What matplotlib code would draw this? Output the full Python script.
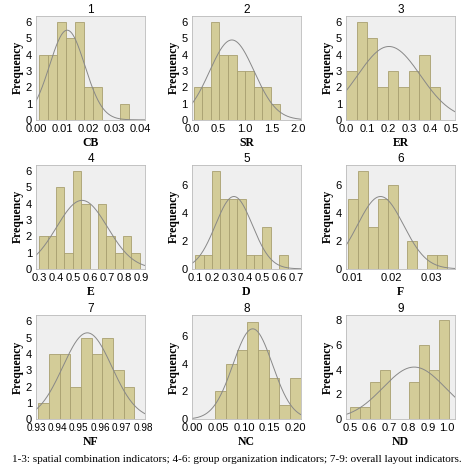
import numpy as np
import matplotlib
matplotlib.use("Agg")
import matplotlib.pyplot as plt

titles = ["1","2","3","4","5","6","7","8","9"]
xlabels = ["CB","SR","ER","E","D","F","NF","NC","ND"]
bin_start = [0.001, 0.03, 0.0, 0.30, 0.10, 0.009, 0.931, 0.045, 0.50]
bin_width = [0.0035, 0.162, 0.05, 0.049, 0.05, 0.0025, 0.005, 0.0206, 0.051]
counts = [
    [4,4,6,5,6,2,2,0,0,1],
    [2,2,6,4,4,3,3,2,2,1],
    [3,6,5,2,3,2,3,4,2],
    [2,2,5,1,6,4,0,4,2,1,2,1],
    [1,1,7,5,5,5,1,1,3,0,1],
    [5,7,3,5,6,0,2,0,1,1],
    [1,4,4,2,5,4,5,3,2],
    [2,4,5,7,5,3,1,3],
    [1,1,3,4,0,0,3,6,4,8],
]
curve_mean = [0.012, 0.75, 0.205, 0.55, 0.33, 0.0172, 0.954, 0.117, 0.83]
curve_sd = [0.0068, 0.42, 0.15, 0.15, 0.11, 0.0058, 0.0115, 0.038, 0.16]
curve_peak = [5.5, 4.9, 4.5, 4.2, 5.2, 5.2, 5.3, 6.5, 4.2]
xlims = [(0,0.042),(0,2.05),(0,0.52),(0.28,0.92),(0.08,0.73),(0.0085,0.036),(0.93,0.981),(0,0.21),(0.48,1.04)]
xticks = [[0,0.01,0.02,0.03,0.04],[0,0.5,1.0,1.5,2.0],[0,0.1,0.2,0.3,0.4,0.5],
          [0.3,0.4,0.5,0.6,0.7,0.8,0.9],[0.1,0.2,0.3,0.4,0.5,0.6,0.7],[0.01,0.02,0.03],
          [0.93,0.94,0.95,0.96,0.97,0.98],[0,0.05,0.10,0.15,0.20],[0.5,0.6,0.7,0.8,0.9,1.0]]
xticklabels = [["0.00","0.01","0.02","0.03","0.04"],["0.0","0.5","1.0","1.5","2.0"],
               ["0.0","0.1","0.2","0.3","0.4","0.5"],["0.3","0.4","0.5","0.6","0.7","0.8","0.9"],
               ["0.1","0.2","0.3","0.4","0.5","0.6","0.7"],["0.01","0.02","0.03"],
               ["0.93","0.94","0.95","0.96","0.97","0.98"],["0.00","0.05","0.10","0.15","0.20"],
               ["0.5","0.6","0.7","0.8","0.9","1.0"]]
ymax = [6.4,6.4,6.4,6.4,7.5,7.5,6.4,7.5,8.4]
yticks = [range(7),range(7),range(7),range(7),[0,2,4,6],[0,2,4,6],range(7),[0,2,4,6],[0,2,4,6,8]]
caption = "1-3: spatial combination indicators; 4-6: group organization indicators; 7-9: overall layout indicators."

fig = plt.figure(figsize=(4.74,4.70), dpi=100)
lefts = [0.076, 0.405, 0.73]
bottoms = [0.745, 0.428, 0.108]
w, h = 0.23, 0.222
for i in range(9):
    ax = fig.add_axes([lefts[i%3], bottoms[i//3], w, h])
    ax.set_facecolor("#efefef")
    c = counts[i]
    xs = bin_start[i] + bin_width[i]*np.arange(len(c))
    ax.bar(xs, c, width=bin_width[i], align="edge", color="#d3cc98", edgecolor="#a8a070", linewidth=0.6)
    xx = np.linspace(*xlims[i], 300)
    ax.plot(xx, curve_peak[i]*np.exp(-0.5*((xx-curve_mean[i])/curve_sd[i])**2), color="#888888", lw=0.7)
    ax.set_xlim(*xlims[i]); ax.set_ylim(0, ymax[i])
    fs = 7.2 if len(xticks[i]) > 5 and i == 6 else 8
    ax.set_xticks(xticks[i]); ax.set_xticklabels(xticklabels[i], fontsize=fs, family="Liberation Sans")
    ax.set_yticks(list(yticks[i])); ax.set_yticklabels([str(v) for v in yticks[i]], fontsize=8, family="Liberation Sans")
    ax.tick_params(axis="x", length=0, pad=3)
    ax.tick_params(axis="y", length=0, pad=3)
    for s in ax.spines.values():
        s.set_color("#bbbbbb"); s.set_linewidth(0.6)
    ax.set_title(titles[i], fontsize=8.5, family="Liberation Sans", pad=2)
    ax.set_xlabel(xlabels[i], fontsize=8.5, family="Liberation Serif", fontweight="bold", labelpad=2)
    ax.set_ylabel("Frequency", fontsize=8.5, family="Liberation Serif", fontweight="bold", labelpad=1)
fig.text(0.5, 0.018, caption, ha="center", fontsize=8, family="Liberation Serif")
fig.savefig("out.png", dpi=100)
